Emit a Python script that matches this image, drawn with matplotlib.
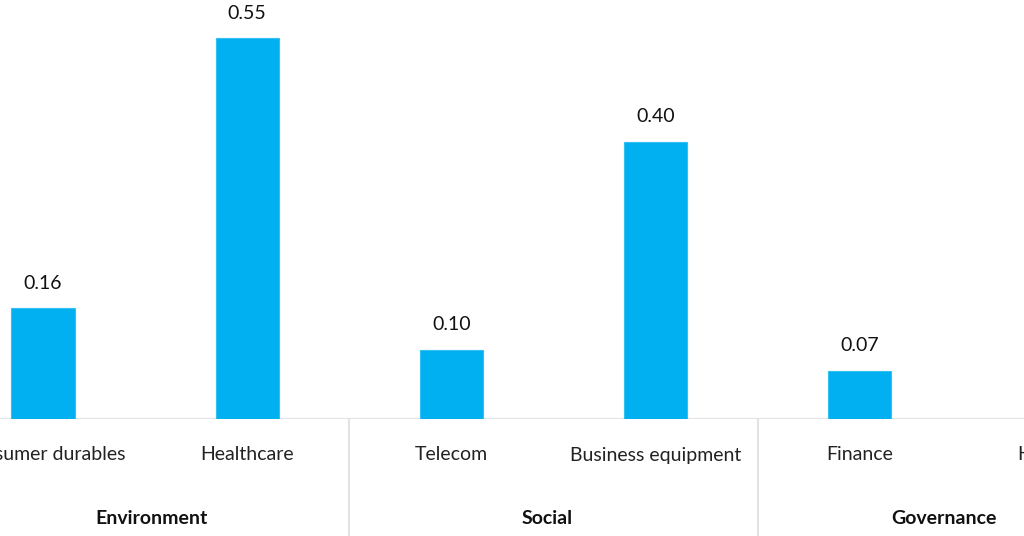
import numpy as np
import matplotlib
matplotlib.use("Agg")
import matplotlib.pyplot as plt

categories = ['Consumer durables', 'Healthcare', 'Telecom', 'Business equipment', 'Finance', 'Healthcare']
values = [0.16, 0.55, 0.10, 0.40, 0.07]
value_labels = ['0.16', '0.55', '0.10', '0.40', '0.07']
groups = ['Environment', 'Social', 'Governance']
group_pos = [0.53, 2.47, 4.41]
separators = [1.5, 3.5]

plt.rcParams['font.family'] = ['Lato', 'DejaVu Sans']

fig = plt.figure(figsize=(10.24, 5.36), dpi=100)
ax = fig.add_axes([0, 117/536, 1, 419/536])

index = np.arange(len(values))
ax.bar(index, values, 0.31, color='#00b0f0', edgecolor='#33c0f3', linewidth=0.8, zorder=2)

for i, (v, lab) in enumerate(zip(values, value_labels)):
    ax.annotate(lab, (i, v), xytext=(0, 25), textcoords='offset pixels',
                ha='center', va='center', fontsize=14, color='#111111')

ax.set_xlim(-43/204.2, 981/204.2)
ax.set_ylim(0, 0.605)
ax.axis('off')

# baseline
ax.axhline(0, color='#e3e3e3', linewidth=1.5, zorder=1)

# tick labels and group labels below the axis
trans = matplotlib.transforms.blended_transform_factory(ax.transData, fig.transFigure)
for i, c in enumerate(categories):
    ax.text(i, 1 - 455/536, c, transform=trans, ha='center', va='center',
            fontsize=14, color='#222222', clip_on=False)
for g, x in zip(groups, group_pos):
    ax.text(x, 1 - 519/536, g, transform=trans, ha='center', va='center',
            fontsize=14, fontweight='bold', color='#111111', clip_on=False)
for s in separators:
    ax.plot([s, s], [0, 1 - 420/536], transform=trans, color='#e3e3e3',
            linewidth=1.5, clip_on=False)

fig.savefig('out.png', dpi=100)
